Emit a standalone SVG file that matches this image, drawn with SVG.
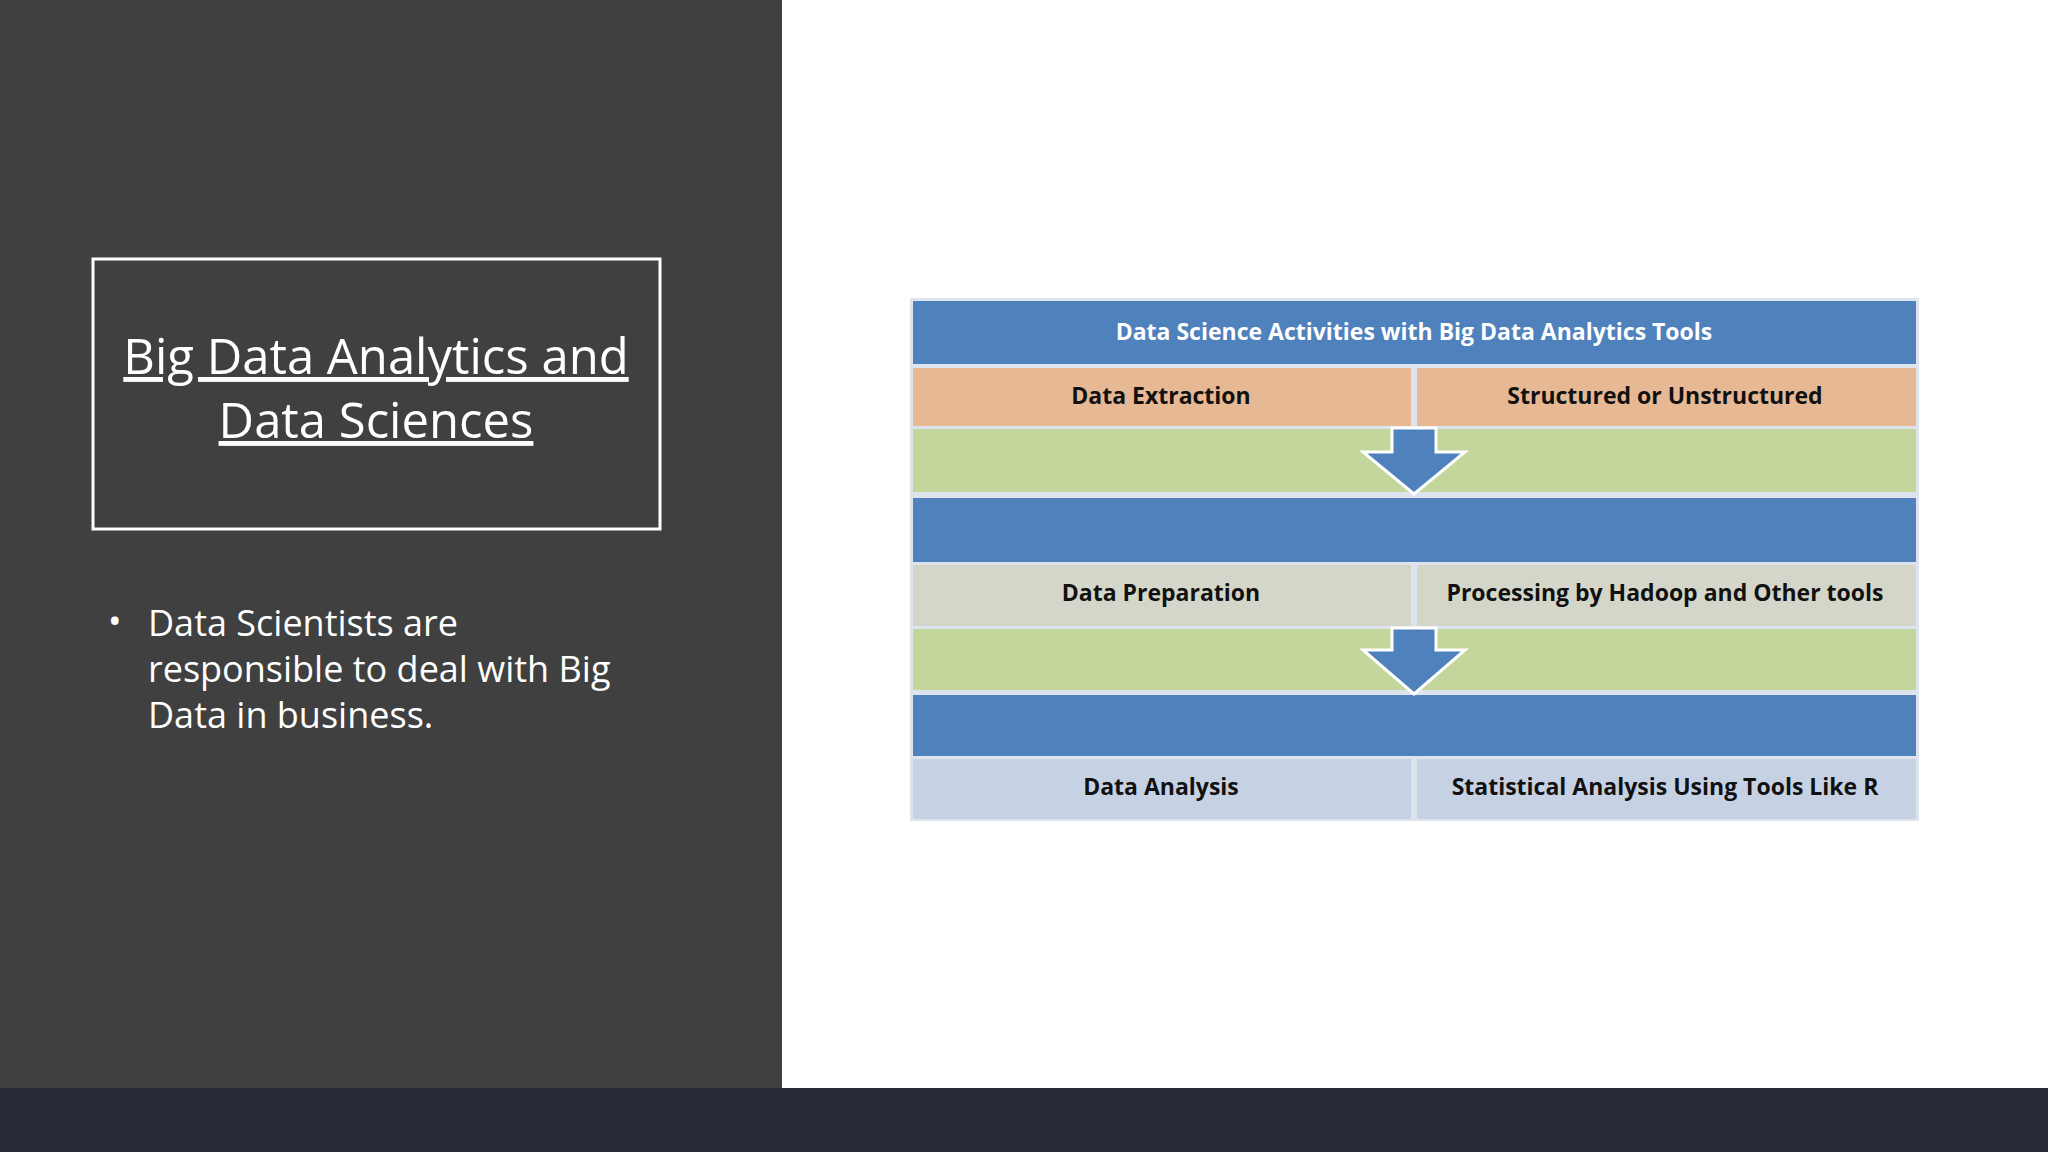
<svg xmlns="http://www.w3.org/2000/svg" width="2048" height="1152" viewBox="0 0 2048 1152">
<style>
.c{font-family:"Open Sans","Liberation Sans",sans-serif;font-weight:bold;font-size:23px;text-anchor:middle;fill:#111}
.w{fill:#fff}
.b{fill:#4f81bd}
.g{fill:#c3d69b}
.ar{fill:#4f81bd;stroke:#fff;stroke-width:3}
</style>
<rect width="2048" height="1152" fill="#fff"/>
<rect width="782" height="1090" fill="#404040"/>
<rect y="1088" width="2048" height="64" fill="#262a36"/>
<g id="title">
<rect x="93" y="259" width="567" height="270" fill="none" stroke="#fff" stroke-width="3"/>
<text x="376" y="374" font-family="Open Sans,Liberation Sans,sans-serif" font-size="49" fill="#fff" text-anchor="middle" text-decoration="underline">Big Data Analytics and</text>
<text x="376" y="438" font-family="Open Sans,Liberation Sans,sans-serif" font-size="49" fill="#fff" text-anchor="middle" text-decoration="underline">Data Sciences</text>
</g>
<g id="bullet" font-family="Open Sans,Liberation Sans,sans-serif" font-size="36" fill="#fff">
<text x="108" y="634">•</text>
<text x="148" y="636">Data Scientists are</text>
<text x="148" y="682">responsible to deal with Big</text>
<text x="148" y="728">Data in business.</text>
</g>
<g id="table">
<rect x="910" y="298" width="1009" height="523" fill="#dde4ee"/>
<g id="header"><rect x="913" y="301" width="1003" height="63" class="b"/>
<text x="1414" y="340" class="c w">Data Science Activities with Big Data Analytics Tools</text></g>
<g id="extraction"><rect x="913" y="368" width="498" height="58" fill="#e6b893"/><rect x="1417" y="368" width="499" height="58" fill="#e6b893"/>
<text x="1161" y="404" class="c">Data Extraction</text><text x="1665" y="404" class="c">Structured or Unstructured</text></g>
<rect x="913" y="429" width="1003" height="63" class="g"/>
<rect x="913" y="498" width="1003" height="64" class="b"/>
<g id="prep"><rect x="913" y="565" width="498" height="61" fill="#d3d6c8"/><rect x="1417" y="565" width="499" height="61" fill="#d3d6c8"/>
<text x="1161" y="601" class="c">Data Preparation</text><text x="1665" y="601" class="c">Processing by Hadoop and Other tools</text></g>
<rect x="913" y="629" width="1003" height="61" class="g"/>
<rect x="913" y="695" width="1003" height="61" class="b"/>
<g id="analysis"><rect x="913" y="759" width="498" height="60" fill="#c7d1e4"/><rect x="1417" y="759" width="499" height="60" fill="#c7d1e4"/>
<text x="1161" y="795" class="c">Data Analysis</text><text x="1665" y="795" class="c">Statistical Analysis Using Tools Like R</text></g>
</g>
<g id="connectors">
<polygon class="ar" points="1392,428 1436,428 1436,452 1465,452 1414,494 1363,452 1392,452"/>
<polygon class="ar" points="1392,628 1436,628 1436,650 1465,650 1414,694 1363,650 1392,650"/>
</g>
</svg>
